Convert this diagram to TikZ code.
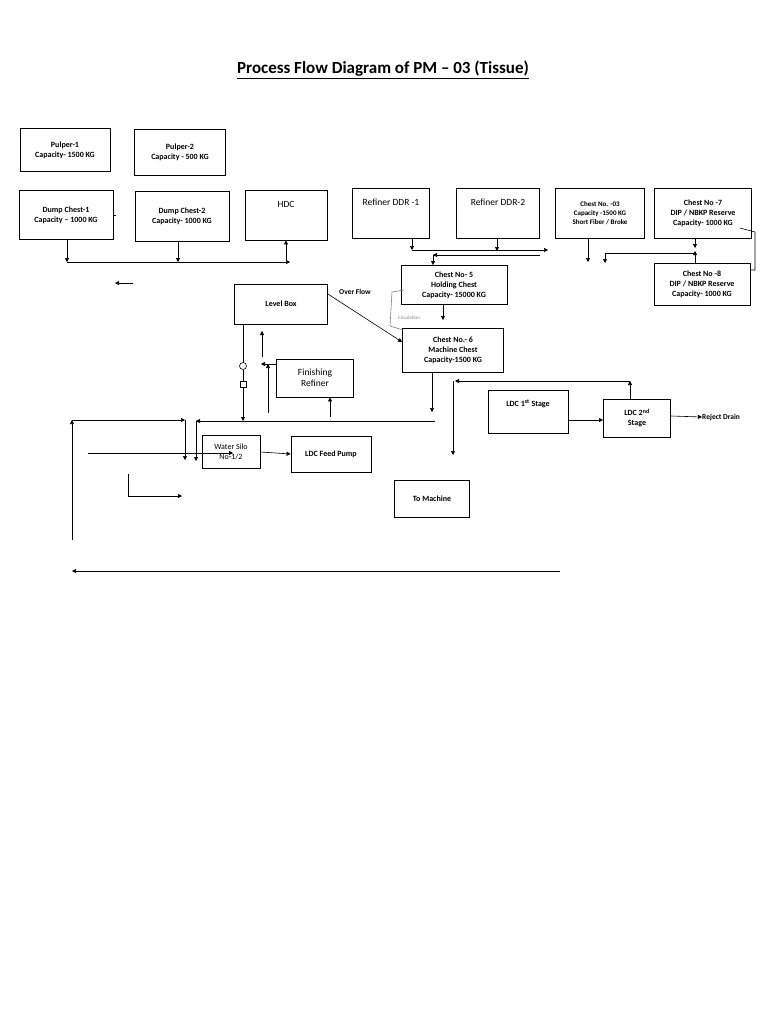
\documentclass[tikz,border=0pt]{standalone}
\usepackage{fontspec}
\setmainfont{Carlito}
\usetikzlibrary{arrows.meta,calc}
\begin{document}
\begin{tikzpicture}[x=1pt,y=-1pt,>={Triangle[length=4pt,width=4pt]},
	box/.style={draw, thick, align=center, font=\fontsize{8}{10}\selectfont\bfseries},
	plain/.style={draw, thick, align=center, font=\fontsize{9.5}{11}\selectfont},
	flow/.style={->, semithick},
	lbl/.style={font=\fontsize{7.5}{9}\selectfont\bfseries, inner sep=0pt}]
	\useasboundingbox (0,0) rectangle (768,1024);
	
	\node[font=\fontsize{17}{20}\selectfont\bfseries] (title) at (383,70) {\underline{Process Flow Diagram of PM -- 03 (Tissue)}};
	
	% boxes
	\node[box, minimum width=90pt, minimum height=43pt] (p1) at (65,150) {Pulper-1\\Capacity- 1500 KG};
	\node[box, minimum width=91pt, minimum height=46pt] (p2) at (180,152) {Pulper-2\\Capacity - 500 KG};
	\node[box, minimum width=94pt, minimum height=49pt] (d1) at (66,215) {Dump Chest-1\\Capacity -- 1000 KG};
	\node[box, minimum width=94pt, minimum height=50pt] (d2) at (182,216) {Dump Chest-2\\Capacity- 1000 KG};
	\node[plain, minimum width=82pt, minimum height=50pt] (hdc) at (286,215) {HDC\\[10pt]};
	\node[plain, minimum width=77pt, minimum height=50pt] (r1) at (391,213) {Refiner DDR -1\\[10pt]};
	\node[plain, minimum width=83pt, minimum height=50pt] (r2) at (498,213) {Refiner DDR-2\\[10pt]};
	\node[box, font=\fontsize{7}{9}\selectfont\bfseries, minimum width=89pt, minimum height=50pt] (c3) at (600,213) {Chest No. -03\\Capacity -1500 KG\\Short Fiber / Broke};
	\node[box, minimum width=97pt, minimum height=50pt] (c7) at (703,213) {Chest No -7\\DIP / NBKP Reserve\\Capacity- 1000 KG};
	\node[box, minimum width=96pt, minimum height=42pt] (c8) at (702,284) {Chest No -8\\DIP / NBKP Reserve\\Capacity- 1000 KG};
	\node[box, minimum width=106pt, minimum height=39pt] (c5) at (454,285) {Chest No- 5\\Holding Chest\\Capacity- 15000 KG};
	\node[box, minimum width=101pt, minimum height=44pt] (c6) at (453,350) {Chest No.- 6\\Machine Chest\\Capacity-1500 KG};
	\node[box, minimum width=93pt, minimum height=40pt] (lb) at (281,304) {Level Box};
	\node[plain, minimum width=77pt, minimum height=38pt] (fr) at (315,378) {Finishing\\Refiner};
	\node[box, font=\fontsize{8}{10}\selectfont, minimum width=58pt, minimum height=33pt] (ws) at (231,452) {Water Silo\\No-1/2};
	\node[box, minimum width=80pt, minimum height=36pt] (fp) at (331,454) {LDC Feed Pump};
	\node[box, minimum width=75pt, minimum height=37pt] (tm) at (432,499) {To Machine};
	\node[box, minimum width=80pt, minimum height=43pt] (l1) at (528,412) {LDC 1\textsuperscript{st} Stage\\[8pt]};
	\node[box, minimum width=67pt, minimum height=38pt] (l2) at (637,418) {LDC 2\textsuperscript{nd}\\Stage};
	\node[lbl, anchor=west] (rd) at (702,417) {Reject Drain};
	\node[lbl] (of) at (355,292) {Over Flow};
	\node[font=\fontsize{5}{6}\selectfont, text=gray, inner sep=0pt] (circ) at (409,318) {Circulation};
	
	% coordinates
	\coordinate (hdcl) at (67,262);
	\coordinate (hdcr) at (290,262);
	\coordinate (rl) at (412,250);
	\coordinate (rr) at (548,250);
	\coordinate (hl) at (433,255);
	\coordinate (hr) at (540,255);
	\coordinate (ml) at (605,253);
	\coordinate (mr) at (695,253);
	\coordinate (sv) at (243,366);
	\coordinate (sq) at (243,384);
	\coordinate (wl) at (196,421);
	\coordinate (wr) at (435,421);
	\coordinate (tl) at (455,381);
	\coordinate (tr) at (630,381);
	\coordinate (ll) at (72,420);
	\coordinate (lr) at (185,420);
	
	% dump chests to HDC
	\draw[flow] (d1.south -| hdcl) -- (hdcl);
	\draw[flow] (d2.south -| 178,0) -- (178,262);
	\draw[flow] (hdcl) -- (hdcr);
	\draw[flow] (286,262) -- (hdc.south -| 286,0);
	\draw[semithick] (d1.east) -- ++(3,0);
	\draw[flow] (133,283) -- (115,283);
	
	% refiners
	\draw[flow] (r1.south -| rl) -- (rl);
	\draw[flow] (r2.south -| 497,0) -- (497,251);
	\draw[flow] (rl) -- (rr);
	\draw[flow] (hr) -- (hl);
	\draw[flow] (hl) -- (c5.north -| hl);
	\draw[flow] (c3.south -| 588,0) -- (588,262);
	\draw[semithick] (ml) -- (mr);
	\draw[flow] (ml) -- (605,263);
	\draw[flow] (c7.south -| mr) -- (695,248);
	\draw[flow] (c8.north -| mr) -- (695,251);
	\draw[semithick] (740,228) -- (755,232) -- (755,270) -- (c8.east |- 0,270);
	
	% holding / machine chest
	\draw[flow] (c5.south -| 443,0) -- (443,320);
	\draw[semithick, gray] (404,290) -- (392,292) -- (390,326) -- (403,330);
	\draw[flow] (lb.east |- 0,294) -- (c6.west |- 0,342);
	
	% level box and finishing refiner
	\draw[semithick] (lb.south -| sv) -- ++(0,38.5);
	\draw[semithick] (243,369.5) -- (243,381);
	\draw[flow] (243,387) -- (243,421);
	\draw[semithick] (sv) circle (3.5);
	\draw[thick] ($(sq)+(-3,-3)$) rectangle ($(sq)+(3,3)$);
	\draw[flow] (262,357) -- (262,331);
	\draw[flow] (fr.west |- 0,364) -- (261,364);
	\draw[flow] (268,413) -- (268,364);
	\draw[flow] (330,417) -- (fr.south -| 330,0);
	\draw[flow] (c6.south -| 432,0) -- (432,412);
	\draw[flow] (wr) -- (wl);
	\draw[flow] (wl) -- (196,461);
	
	% LDC
	\draw[flow] (l1.east |- 0,420) -- (l2.west |- 0,420);
	\draw[flow] (l2.east |- 0,416) -- (rd.west);
	\draw[flow] (l2.north -| tr) -- (tr);
	\draw[flow] (tr) -- (tl);
	\draw[flow] (453,381) -- (453,455);
	\draw[flow] (ws.east) -- (fp.west);
	
	% left side
	\draw[flow] (72,540) -- (ll);
	\draw[flow] (ll) -- (lr);
	\draw[flow] (lr) -- (185,460);
	\draw[flow] (88,453) -- (233,453);
	\draw[flow] (128,474) -- (128,496) -- (182,496);
	\draw[flow] (560,571) -- (72,571);
	
\end{tikzpicture}
\end{document}
